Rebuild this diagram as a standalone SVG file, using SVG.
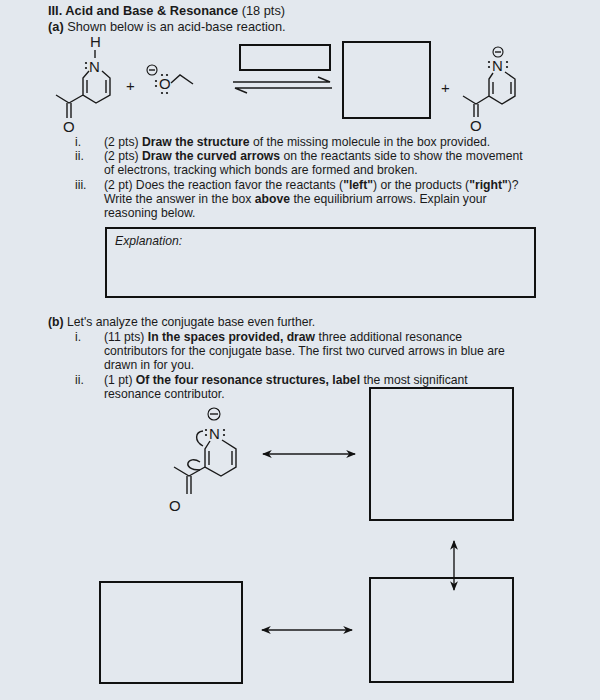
<svg xmlns="http://www.w3.org/2000/svg" width="600" height="700" viewBox="0 0 600 700">
<style>
text{font-family:"Liberation Sans",Arial,sans-serif;font-size:12.2px;fill:#1a1a1a}
.b{font-weight:bold}
.t{font-size:12.8px}
.l{fill:none;stroke:#1a1a1a;stroke-width:1.4}
.box{fill:none;stroke:#111;stroke-width:2}
.at{font-size:15px}
.d{fill:#111}
</style>
<defs>
<marker id="ah" viewBox="0 0 10 10" refX="9" refY="5" markerWidth="7" markerHeight="7" orient="auto-start-reverse"><path d="M0,1 L10,5 L0,9 L3,5 z" fill="#111"/></marker>
</defs>
<rect width="600" height="700" fill="#e3e8ee"/>
<text x="48" y="15" class="b t">III. Acid and Base &amp; Resonance <tspan font-weight="normal">(18 pts)</tspan></text>
<text x="48" y="31" class="t"><tspan class="b">(a)</tspan> Shown below is an acid-base reaction.</text>

<g id="reactant-acid">
<text x="90" y="47" class="at">H</text>
<path class="l" d="M95,50 V58"/>
<text x="89" y="72" class="at">N</text>
<circle class="d" cx="86" cy="63" r="1.1"/><circle class="d" cx="86" cy="68" r="1.1"/>
<path class="l" d="M102,71 L110,78 V95 L96,103 L83,95 V78 L89,71 M87,80 V93 M106,80 V93 M83,95 L69,103 L56,95 M67,103 V118 M71,103 V118"/>
<text x="63" y="132" class="at">O</text>
</g>
<text x="126" y="91" class="at">+</text>
<g id="ethoxide">
<circle cx="152" cy="70" r="5" fill="none" stroke="#111" stroke-width="1.1"/><path class="l" d="M149,70 H155"/>
<text x="159" y="89" class="at">O</text>
<circle class="d" cx="162" cy="75" r="1.1"/><circle class="d" cx="167" cy="75" r="1.1"/>
<circle class="d" cx="162" cy="93" r="1.1"/><circle class="d" cx="167" cy="93" r="1.1"/>
<circle class="d" cx="156" cy="81" r="1.1"/><circle class="d" cx="156" cy="86" r="1.1"/>
<path class="l" d="M171,83 L180,75 L193,84"/>
</g>
<g id="connectors">
<path class="l" d="M233,82 H330 L318,77"/>
<path class="l" d="M332,88 H235 L247,93"/>
<path class="l" marker-start="url(#ah)" marker-end="url(#ah)" d="M263,454 H355"/>
<path class="l" marker-start="url(#ah)" marker-end="url(#ah)" d="M454,541 V590"/>
<path class="l" marker-start="url(#ah)" marker-end="url(#ah)" d="M262,630 H352"/>
</g>
<g id="answer-box"><rect class="box" x="240" y="45" width="90" height="25"/></g>
<g id="product-box"><rect class="box" x="343" y="42" width="87" height="76"/></g>
<text x="441" y="93" class="at">+</text>
<g id="product-base">
<circle cx="498" cy="52" r="5" fill="none" stroke="#111" stroke-width="1.1"/><path class="l" d="M495,52 H501"/>
<text x="492" y="71" class="at">N</text>
<circle class="d" cx="489" cy="62" r="1.1"/><circle class="d" cx="489" cy="67" r="1.1"/>
<circle class="d" cx="507" cy="62" r="1.1"/><circle class="d" cx="507" cy="67" r="1.1"/>
<path class="l" d="M505,72 L515,79 V96 L502,104 L489,96 V79 L493,73 M493,82 V94 M511,82 V94 M489,96 L476,104 L463,96 M474,104 V117 M478,104 V117"/>
<text x="470" y="131" class="at">O</text>
</g>
<g id="questions-a">
<text x="75" y="146">i.</text><text x="104" y="146">(2 pts) <tspan class="b">Draw the structure</tspan> of the missing molecule in the box provided.</text>
<text x="75" y="160">ii.</text><text x="104" y="160">(2 pts) <tspan class="b">Draw the curved arrows</tspan> on the reactants side to show the movement</text>
<text x="104" y="174">of electrons, tracking which bonds are formed and broken.</text>
<text x="75" y="189">iii.</text><text x="104" y="189">(2 pt) Does the reaction favor the reactants (<tspan class="b">"left"</tspan>) or the products (<tspan class="b">"right"</tspan>)?</text>
<text x="104" y="203">Write the answer in the box <tspan class="b">above</tspan> the equilibrium arrows. Explain your</text>
<text x="104" y="217">reasoning below.</text>
</g>
<g id="explanation-box"><rect class="box" x="106" y="228" width="429" height="69" fill="none"/>
<text x="115" y="245" font-style="italic">Explanation:</text></g>
<g id="questions-b">
<text x="48" y="326"><tspan class="b">(b)</tspan> Let's analyze the conjugate base even further.</text>
<text x="75" y="341">i.</text><text x="104" y="341">(11 pts) <tspan class="b">In the spaces provided, draw</tspan> three additional resonance</text>
<text x="104" y="355">contributors for the conjugate base. The first two curved arrows in blue are</text>
<text x="104" y="369">drawn in for you.</text>
<text x="75" y="384">ii.</text><text x="104" y="384">(1 pt) <tspan class="b">Of the four resonance structures, label</tspan> the most significant</text>
<text x="104" y="398">resonance contributor.</text>
</g>
<g id="conjugate-base">
<circle cx="214" cy="414" r="6" fill="none" stroke="#111" stroke-width="1.1"/><path class="l" d="M210,414 H218"/>
<text x="209" y="439" class="at">N</text>
<circle class="d" cx="206" cy="430" r="1.1"/><circle class="d" cx="206" cy="435" r="1.1"/>
<circle class="d" cx="224" cy="430" r="1.1"/><circle class="d" cx="224" cy="435" r="1.1"/>
<path class="l" d="M222,440 L236,449 V467 L221,476 L205,467 V449 L210,441 M209,451 V465 M232,451 V465 M205,467 L189,476 L174,467 M187,476 V494 M191,476 V494"/>
<text x="169" y="511" class="at">O</text>
<path class="l" d="M203,431 C195,432 194,441 203,446"/>
<path class="l" d="M200,462 C188,454 180,470 200,470"/>
</g>
<g id="box-2"><rect class="box" x="370" y="388" width="143" height="132"/></g>
<g id="box-3"><rect class="box" x="100" y="582" width="142" height="101"/></g>
<g id="box-4"><rect class="box" x="370" y="578" width="143" height="104"/></g>
</svg>
